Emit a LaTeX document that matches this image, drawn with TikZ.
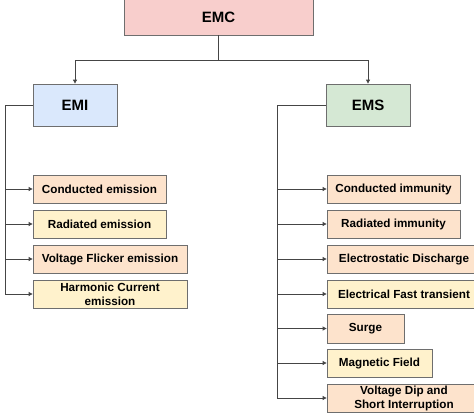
\documentclass[tikz,border=0pt]{standalone}
\usepackage{fontspec}
\setmainfont{Liberation Sans}
\usetikzlibrary{arrows.meta, positioning}

\definecolor{emcfill}{HTML}{F8CECC}
\definecolor{emifill}{HTML}{DAE8FC}
\definecolor{emsfill}{HTML}{D5E8D4}
\definecolor{peach}{HTML}{FDE3CC}
\definecolor{cream}{HTML}{FFF2CC}
\definecolor{edge}{HTML}{6E6E6E}
\definecolor{wire}{HTML}{454545}

\begin{document}
\begin{tikzpicture}[
	x=1pt, y=-1pt,
	TopNode/.style={draw=edge, line width=0.8pt, inner sep=0pt,
		font=\fontsize{15}{17}\selectfont\bfseries, minimum height=42pt, minimum width=84pt},
	LeafNode/.style={draw=edge, line width=0.8pt, inner sep=0pt, align=center,
		font=\fontsize{11.7}{14}\selectfont\bfseries, minimum height=28pt},
	Wire/.style={draw=wire, line width=0.8pt},
	Arrow/.style={Wire, -{Triangle[length=4pt, width=4pt]}}
	]

\useasboundingbox (0,0) rectangle (474,413);

% top level
\node [TopNode, fill=emcfill, minimum width=189pt, minimum height=36pt] (emc) at (218.5,17) {EMC};
\node [TopNode, fill=emifill] (emi) at (75,105) {EMI};
\node [TopNode, fill=emsfill] (ems) at (368,105) {EMS};

% emission side
\node [LeafNode, fill=peach, minimum width=133pt] (condE) at (99.5,189) {Conducted emission};
\node [LeafNode, fill=cream, minimum width=133pt] (radE) at (99.5,224) {Radiated emission};
\node [LeafNode, fill=peach, minimum width=154pt] (flickE) at (110,259) {Voltage Flicker emission};
\node [LeafNode, fill=cream, minimum width=154pt] (harmE) at (110,294) {Harmonic Current\\emission};

% immunity side
\node [LeafNode, fill=peach, minimum width=133pt] (condS) at (393.5,189) {Conducted immunity};
\node [LeafNode, fill=peach, minimum width=133pt] (radS) at (393.5,224) {Radiated immunity};
\node [LeafNode, fill=peach, minimum width=154pt] (esdS) at (404,259) {Electrostatic Discharge};
\node [LeafNode, fill=cream, minimum width=154pt] (eftS) at (404,294) {Electrical Fast transient};
\node [LeafNode, fill=peach, minimum width=77pt, minimum height=29pt] (surgeS) at (365.5,328.5) {Surge};
\node [LeafNode, fill=cream, minimum width=105pt] (magS) at (379.5,363) {Magnetic Field};
\node [LeafNode, fill=peach, minimum width=154pt] (dipS) at (404,398) {Voltage Dip and\\Short Interruption};

% connectors
\coordinate (split) at (218.5,60);
\coordinate (emiBus) at (5,105);
\coordinate (emsBus) at (277,105);

\draw [Wire] (emc.south) -- (split);
\draw [Arrow] (split) -| (emi.north);
\draw [Arrow] (split) -| (ems.north);

\draw [Wire] (emi.west) -- (emiBus) -- (emiBus |- harmE.west);
\foreach \leaf in {condE, radE, flickE, harmE}
	\draw [Arrow] (emiBus |- \leaf.west) -- (\leaf.west);

\draw [Wire] (ems.west) -- (emsBus) -- (emsBus |- dipS.west);
\foreach \leaf in {condS, radS, esdS, eftS, surgeS, magS, dipS}
	\draw [Arrow] (emsBus |- \leaf.west) -- (\leaf.west);

\end{tikzpicture}
\end{document}
